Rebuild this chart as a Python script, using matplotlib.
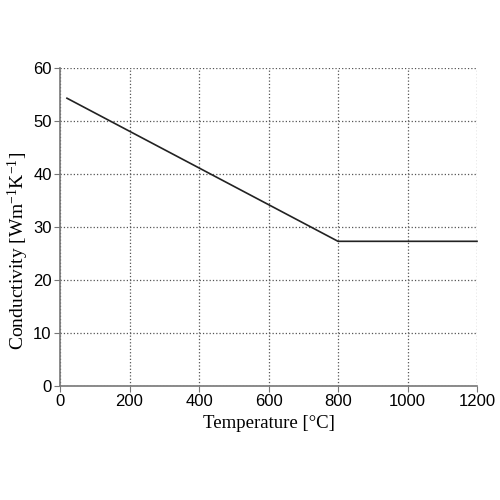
import matplotlib
matplotlib.use('Agg')
from matplotlib import pyplot as plt

# conductivity vs temperature
temp = [20, 800, 1200]
cond = [54.3, 27.3, 27.3]
xticks = [0, 200, 400, 600, 800, 1000, 1200]
yticks = [0, 10, 20, 30, 40, 50, 60]

plt.rcParams['mathtext.default'] = 'regular'

fig = plt.figure(figsize=(5, 5), dpi=100)
ax = fig.add_axes([0.12, 0.228, 0.834, 0.636])
ax.plot(temp, cond, color='#222222', lw=1.2, clip_on=False, zorder=3)

ax.set_xlim(0, 1200)
ax.set_ylim(0, 60)
ax.set_xticks(xticks)
ax.set_yticks(yticks)
ax.grid(True, ls=':', color='#555555', lw=0.9)
ax.set_axisbelow(True)
for s in ['top', 'right']:
    ax.spines[s].set_visible(False)
for s in ['left', 'bottom']:
    ax.spines[s].set_color('#777777')
    ax.spines[s].set_linewidth(1.2)
ax.tick_params(direction='out', length=4, color='#777777', labelsize=12, pad=2)
for lab in ax.get_xticklabels() + ax.get_yticklabels():
    lab.set_family('Liberation Sans')

ax.set_xlabel('Temperature [°C]', family='Liberation Serif', fontsize=13.5, labelpad=4)
ax.set_ylabel('Conductivity [Wm$^{-1}$K$^{-1}$]', family='Liberation Serif', fontsize=14)
ax.yaxis.set_label_coords(-0.07, 0.425)

fig.savefig('out.png', dpi=100)
